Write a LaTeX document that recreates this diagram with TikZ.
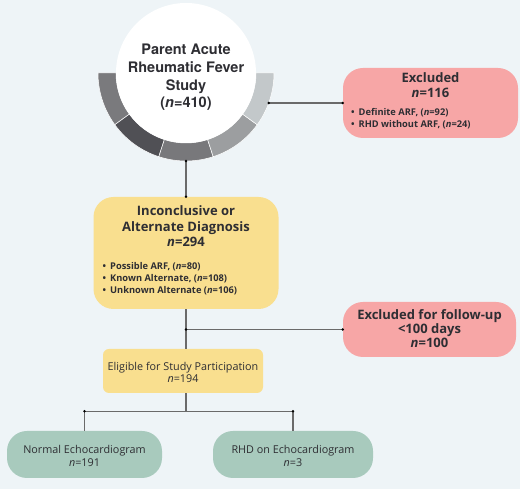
\documentclass[tikz,border=0pt]{standalone}
\usepackage{fontspec}
\setmainfont{Open Sans}
\newfontfamily\headfont{TeX Gyre Heros}
\usetikzlibrary{calc}
\definecolor{bg}{HTML}{EEF4F7}
\definecolor{ink}{HTML}{2E2E33}
\definecolor{wire}{HTML}{6A6A6A}
\definecolor{exred}{HTML}{F7A6A6}
\definecolor{incyel}{HTML}{F9DF8F}
\definecolor{echogrn}{HTML}{A8CABD}
\definecolor{ringa}{HTML}{7A7A7D}
\definecolor{ringb}{HTML}{505055}
\definecolor{ringc}{HTML}{78787B}
\definecolor{ringd}{HTML}{9C9EA0}
\definecolor{ringe}{HTML}{C3C8CA}
\tikzset{dot/.style={fill=black}}
\tikzset{link/.style={draw=wire, line width=1.2pt}}
\tikzset{boxbase/.style={inner sep=0pt, rounded corners=20pt}}
\tikzset{redbox/.style={boxbase, fill=exred}}
\tikzset{yelbox/.style={boxbase, fill=incyel}}
\tikzset{grnbox/.style={boxbase, fill=echogrn}}
\tikzset{headtext/.style={align=center, text=ink, inner sep=0pt, font=\bfseries\fontsize{13}{15}\selectfont}}
\tikzset{listtext/.style={align=left, text=ink, inner sep=0pt, anchor=west, font=\bfseries\fontsize{9.3}{11.8}\selectfont}}
\tikzset{plaintext/.style={align=center, text=ink, inner sep=0pt, font=\fontsize{10.8}{13}\selectfont}}

\begin{document}
\begin{tikzpicture}[x=1pt, y=1pt]
    \fill[bg] (0,0) rectangle (520,489);
    \useasboundingbox (0,0) rectangle (520,489);

    % ring under the study circle
    \coordinate (C) at (186,416);
    \foreach \a/\c in {180/ringa, 216/ringb, 252/ringc, 288/ringd, 324/ringe}
        \filldraw[fill=\c, draw=white, line width=0.5pt] (C) ++(\a:88)
            arc[start angle=\a, delta angle=36, radius=88]
            -- ($(C)+({\a+36}:70)$)
            arc[start angle={\a+36}, delta angle=-36, radius=70] -- cycle;
    \fill[white] (C) circle (70);

    \node[align=center, text=ink, inner sep=0pt,
        font=\headfont\bfseries\fontsize{14.5}{17.7}\selectfont] (parent) at (186,411.5)
        {Parent Acute\\Rheumatic Fever\\Study\\(\textit{n}=410)};

    \coordinate (ringE) at (268.7,386);
    \coordinate (ringS) at (186,328);

    % boxes
    \node[redbox, minimum width=175, minimum height=70] (excl) at (430.5,386) {};
    \node[headtext] (excl-t) at (430.5,403.5) {Excluded\\\textit{n}=116};
    \node[listtext] (excl-l) at (351,370)
        {\textbullet\hspace{4pt}Definite ARF, (\textit{n}=92)\\
         \textbullet\hspace{4pt}RHD without ARF, (\textit{n}=24)};

    \node[yelbox, minimum width=185, minimum height=112] (incon) at (186,236) {};
    \node[headtext, font=\bfseries\fontsize{13}{15.5}\selectfont] (incon-t) at (186,262.7)
        {Inconclusive or\\Alternate Diagnosis\\\textit{n}=294};
    \node[listtext] (incon-l) at (102.5,210.5)
        {\textbullet\hspace{4pt}Possible ARF, (\textit{n}=80)\\
         \textbullet\hspace{4pt}Known Alternate, (\textit{n}=108)\\
         \textbullet\hspace{4pt}Unknown Alternate (\textit{n}=106)};

    \node[redbox, minimum width=173, minimum height=55] (excl2) at (429.5,159.5) {};
    \node[headtext, font=\bfseries\fontsize{13}{14}\selectfont] (excl2-t) at (429.5,160)
        {Excluded for follow-up\\<100 days\\\textit{n}=100};

    \node[yelbox, rounded corners=6pt, minimum width=160, minimum height=44] (elig) at (183,118) {};
    \node[plaintext, font=\fontsize{10.8}{12}\selectfont] (elig-t) at (183,117)
        {Eligible for Study Participation\\\textit{n}=194};

    \node[grnbox, minimum width=155, minimum height=47] (normal) at (84.5,34.5) {};
    \node[plaintext] (normal-t) at (84.5,33.5)
        {Normal Echocardiogram\\\textit{n}=191};
    \node[grnbox, minimum width=160, minimum height=47] (rhd) at (293,34.5) {};
    \node[plaintext] (rhd-t) at (293,33.5)
        {RHD on Echocardiogram\\\textit{n}=3};

    % connectors
    \draw[link] (ringE) -- (excl.west);
    \fill[dot] (ringE) circle (1.4) (excl.west) circle (1.4);

    \draw[link] (ringS) -- (ringS |- incon.north);
    \fill[dot] (ringS) circle (1.4) (ringS |- incon.north) circle (1.4);

    \coordinate (split) at (incon.south |- excl2.west);
    \draw[link] (incon.south) -- (incon.south |- elig.north);
    \draw[link] (split) -- (excl2.west);
    \fill[dot] (split) circle (1.4) (excl2.west) circle (1.4);

    \coordinate (fork) at ($(incon.south |- elig.south)+(0,-18)$);
    \draw[link] (incon.south |- elig.south) -- (fork);
    \draw[link] (normal.north) -- (normal.north |- fork) -- (rhd.north |- fork) -- (rhd.north);
    \fill[dot] (normal.north |- fork) circle (1.4) (rhd.north |- fork) circle (1.4);
\end{tikzpicture}
\end{document}
